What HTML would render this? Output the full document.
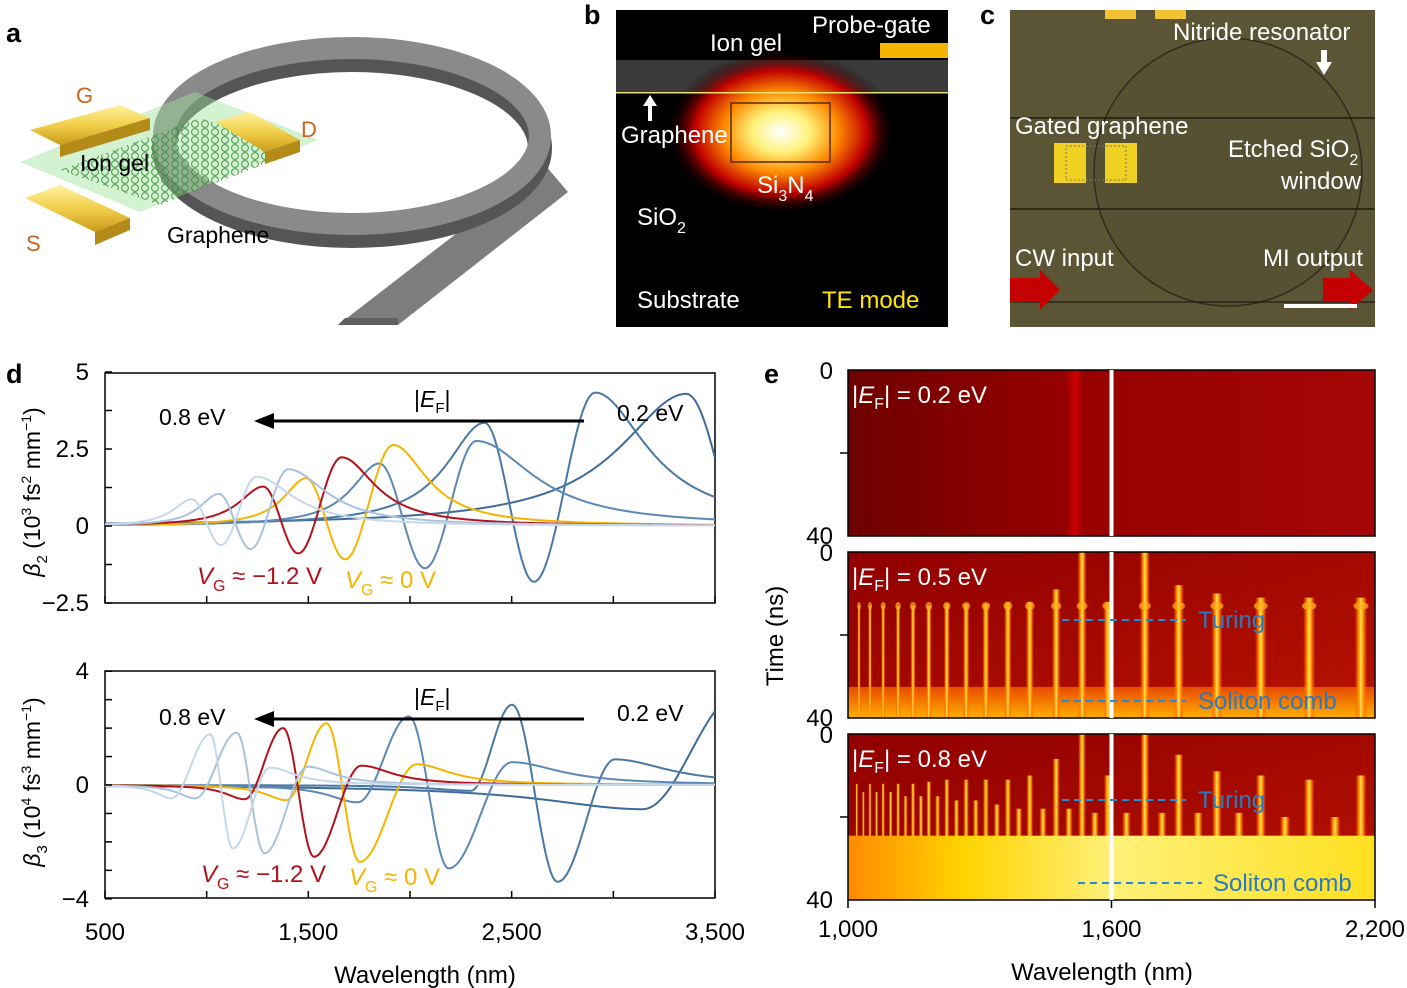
<!DOCTYPE html>
<html><head><meta charset="utf-8"><style>
html,body{margin:0;padding:0;background:#fff;}
svg{display:block;font-family:"Liberation Sans",Arial,sans-serif;}
</style></head><body>
<svg id="fig" width="1407" height="988" viewBox="0 0 1407 988" xmlns="http://www.w3.org/2000/svg">
<defs>
  <linearGradient id="gold" x1="0" y1="0" x2="0" y2="1"><stop offset="0" stop-color="#fff3a0"/><stop offset="0.5" stop-color="#f2cf4a"/><stop offset="1" stop-color="#c99b1c"/></linearGradient>
  <radialGradient id="glow" cx="0.5" cy="0.5" r="0.5"><stop offset="0" stop-color="#ffffff"/><stop offset="0.25" stop-color="#fff27a"/><stop offset="0.5" stop-color="#ff8a00"/><stop offset="0.75" stop-color="#c00000"/><stop offset="1" stop-color="#000" stop-opacity="0"/></radialGradient>
  <linearGradient id="hmTop" x1="0" y1="0" x2="1" y2="0"><stop offset="0" stop-color="#6e0000"/><stop offset="0.4" stop-color="#950000"/><stop offset="1" stop-color="#a50606"/></linearGradient>
  <linearGradient id="hmMid" x1="0" y1="0" x2="1" y2="1"><stop offset="0" stop-color="#900000"/><stop offset="1" stop-color="#b81200"/></linearGradient>
  <linearGradient id="band7" x1="0" y1="0" x2="1" y2="0"><stop offset="0" stop-color="#c80000" stop-opacity="0"/><stop offset="0.5" stop-color="#d00000"/><stop offset="1" stop-color="#c80000" stop-opacity="0"/></linearGradient>
  <linearGradient id="streak" x1="0" y1="0" x2="1" y2="0"><stop offset="0" stop-color="#ff5a00" stop-opacity="0"/><stop offset="0.3" stop-color="#ff8a00"/><stop offset="0.5" stop-color="#ffe050"/><stop offset="0.7" stop-color="#ff8a00"/><stop offset="1" stop-color="#ff5a00" stop-opacity="0"/></linearGradient>
  <linearGradient id="band" x1="0" y1="0" x2="0" y2="1"><stop offset="0" stop-color="#e84a00"/><stop offset="1" stop-color="#ffb000"/></linearGradient>
  <linearGradient id="flood" x1="0" y1="0" x2="1" y2="0"><stop offset="0" stop-color="#ff8a00"/><stop offset="0.22" stop-color="#ffd400"/><stop offset="0.5" stop-color="#fff07a"/><stop offset="1" stop-color="#ffe020"/></linearGradient>
  <pattern id="hex" width="10" height="8" patternUnits="userSpaceOnUse"><circle cx="5" cy="4" r="3.4" fill="none" stroke="#3a8a3a" stroke-width="1"/></pattern>
  <clipPath id="clipD2"><rect x="105" y="373" width="610" height="230"/></clipPath>
  <clipPath id="clipD3"><rect x="105" y="671" width="610" height="227"/></clipPath>
</defs>

<!-- Panel a -->
<g>
  <text x="6" y="42" font-size="27" font-weight="bold">a</text>
  <polygon points="338,325 398,325 568,192 545,165" fill="#7d7d7d"/>
  <polygon points="338,325 398,325 398,318 345,318" fill="#5f5f5f"/>
  <ellipse cx="352" cy="148" rx="188" ry="88" fill="none" stroke="#555" stroke-width="24"/>
  <ellipse cx="352" cy="136" rx="188" ry="88" fill="none" stroke="#8a8a8a" stroke-width="22"/>
  <polygon points="20,162 195,92 318,140 140,212" fill="#9be39b" opacity="0.45"/>
  <polygon points="60,170 200,118 300,150 160,205" fill="url(#hex)" opacity="0.9"/>
  <polygon points="30,130 120,105 150,118 60,145" fill="url(#gold)"/>
  <polygon points="60,145 150,118 150,130 60,157" fill="#b48a18"/>
  <polygon points="215,122 250,112 300,140 265,152" fill="url(#gold)"/>
  <polygon points="265,152 300,140 300,152 265,164" fill="#b48a18"/>
  <polygon points="25,198 60,185 130,218 95,232" fill="url(#gold)"/>
  <polygon points="95,232 130,218 130,230 95,245" fill="#b48a18"/>
  <text x="76" y="103" font-size="22" fill="#c8641e">G</text>
  <text x="301" y="137" font-size="22" fill="#c8641e">D</text>
  <text x="26" y="251" font-size="22" fill="#c8641e">S</text>
  <text x="80" y="171" font-size="23">Ion gel</text>
  <text x="167" y="243" font-size="23">Graphene</text>
</g>

<!-- Panel b -->
<g>
  <text x="584" y="24" font-size="27" font-weight="bold">b</text>
  <rect x="616" y="10" width="332" height="317" fill="#000"/>
  <rect x="616" y="60" width="332" height="32" fill="#3a3a3a"/>
  <ellipse cx="781" cy="132" rx="115" ry="82" fill="url(#glow)"/>
  <rect x="616" y="92" width="332" height="1.5" fill="#e5e36a"/>
  <rect x="731" y="103" width="99" height="59" fill="none" stroke="#5a2a00" stroke-width="1.5"/>
  <rect x="880" y="43" width="68" height="15" fill="#f5b400"/>
  <text x="710" y="51" font-size="24" fill="#fff">Ion gel</text>
  <text x="812" y="33" font-size="24" fill="#fff">Probe-gate</text>
  <polygon points="650,95 643,106 648,106 648,121 652,121 652,106 657,106" fill="#fff"/>
  <text x="621" y="143" font-size="24" fill="#fff">Graphene</text>
  <text x="757" y="193" font-size="24" fill="#fff">Si<tspan font-size="16" dy="8">3</tspan><tspan dy="-8">N</tspan><tspan font-size="16" dy="8">4</tspan></text>
  <text x="637" y="225" font-size="24" fill="#fff">SiO<tspan font-size="16" dy="8">2</tspan></text>
  <text x="637" y="308" font-size="24" fill="#fff">Substrate</text>
  <text x="822" y="308" font-size="24" fill="#ffe600">TE mode</text>
</g>

<!-- Panel c -->
<g>
  <text x="980" y="24" font-size="27" font-weight="bold">c</text>
  <rect x="1010" y="10" width="365" height="317" fill="#5c5535"/>
  <circle cx="1228" cy="172" r="134" fill="#575133" stroke="#2d2b1c" stroke-width="1.5"/>
  <line x1="1010" y1="118" x2="1375" y2="118" stroke="#1e1c10" stroke-width="1.5"/>
  <line x1="1010" y1="209" x2="1375" y2="209" stroke="#1e1c10" stroke-width="1.5"/>
  <line x1="1010" y1="302" x2="1375" y2="302" stroke="#1e1c10" stroke-width="1.2"/>
  <rect x="1105" y="10" width="31" height="9" fill="#f2c232"/>
  <rect x="1155" y="10" width="31" height="9" fill="#f2c232"/>
  <rect x="1054" y="143" width="32" height="40" fill="#f0d020"/>
  <rect x="1105" y="143" width="32" height="40" fill="#f0d020"/>
  <rect x="1066" y="146" width="60" height="34" fill="none" stroke="#777" stroke-dasharray="2,2"/>
  <polygon points="1010,278 1040,278 1040,270 1060,290 1040,310 1040,302 1010,302" fill="#c40000"/>
  <polygon points="1323,278 1350,278 1350,270 1373,290 1350,310 1350,302 1323,302" fill="#c40000"/>
  <rect x="1284" y="304" width="73" height="4" fill="#fff"/>
  <polygon points="1324,75 1316,62 1321,62 1321,50 1327,50 1327,62 1332,62" fill="#fff"/>
  <text x="1173" y="40" font-size="24" fill="#fff">Nitride resonator</text>
  <text x="1015" y="134" font-size="24" fill="#fff">Gated graphene</text>
  <text x="1228" y="157" font-size="24" fill="#fff">Etched SiO<tspan font-size="16" dy="8">2</tspan></text>
  <text x="1281" y="189" font-size="24" fill="#fff">window</text>
  <text x="1015" y="266" font-size="24" fill="#fff">CW input</text>
  <text x="1263" y="266" font-size="24" fill="#fff">MI output</text>
</g>

<!-- Panel d -->
<g id="panelD">
  <text x="6" y="383" font-size="27" font-weight="bold">d</text>
  <rect x="105" y="373" width="610" height="230" fill="none" stroke="#000" stroke-width="1.5"/>
  <rect x="105" y="671" width="610" height="227" fill="none" stroke="#000" stroke-width="1.5"/>
  <g id="d2lines" clip-path="url(#clipD2)"></g>
  <g id="d3lines" clip-path="url(#clipD3)"></g>
  <g id="dAxes"></g>
  <text transform="translate(40,492) rotate(-90)" font-size="23" text-anchor="middle"><tspan font-style="italic">β</tspan><tspan font-size="15" dy="7">2</tspan><tspan dy="-7"> (10</tspan><tspan font-size="14" dy="-9">3</tspan><tspan dy="9"> fs</tspan><tspan font-size="14" dy="-9">2</tspan><tspan dy="9"> mm</tspan><tspan font-size="14" dy="-9">−1</tspan><tspan dy="9">)</tspan></text>
  <text transform="translate(40,782) rotate(-90)" font-size="23" text-anchor="middle"><tspan font-style="italic">β</tspan><tspan font-size="15" dy="7">3</tspan><tspan dy="-7"> (10</tspan><tspan font-size="14" dy="-9">4</tspan><tspan dy="9"> fs</tspan><tspan font-size="14" dy="-9">3</tspan><tspan dy="9"> mm</tspan><tspan font-size="14" dy="-9">−1</tspan><tspan dy="9">)</tspan></text>
  <text x="425" y="983" font-size="24" text-anchor="middle">Wavelength (nm)</text>
  <text x="159" y="425" font-size="23">0.8 eV</text>
  <text x="617" y="421" font-size="23">0.2 eV</text>
  <text x="414" y="407" font-size="23">|<tspan font-style="italic">E</tspan><tspan font-size="15" dy="6">F</tspan><tspan dy="-6">|</tspan></text>
  <line x1="270" y1="421" x2="584" y2="421" stroke="#000" stroke-width="3"/>
  <polygon points="254,421 274,413 274,429" fill="#000"/>
  <text x="197" y="584" font-size="24" fill="#b3121c"><tspan font-style="italic">V</tspan><tspan font-size="16" dy="7">G</tspan><tspan dy="-7"> ≈ −1.2 V</tspan></text>
  <text x="345" y="588" font-size="24" fill="#f4b400"><tspan font-style="italic">V</tspan><tspan font-size="16" dy="7">G</tspan><tspan dy="-7"> ≈ 0 V</tspan></text>
  <text x="159" y="725" font-size="23">0.8 eV</text>
  <text x="617" y="721" font-size="23">0.2 eV</text>
  <text x="414" y="705" font-size="23">|<tspan font-style="italic">E</tspan><tspan font-size="15" dy="6">F</tspan><tspan dy="-6">|</tspan></text>
  <line x1="270" y1="719" x2="584" y2="719" stroke="#000" stroke-width="3"/>
  <polygon points="254,719 274,711 274,727" fill="#000"/>
  <text x="201" y="882" font-size="24" fill="#b3121c"><tspan font-style="italic">V</tspan><tspan font-size="16" dy="7">G</tspan><tspan dy="-7"> ≈ −1.2 V</tspan></text>
  <text x="349" y="885" font-size="24" fill="#f4b400"><tspan font-style="italic">V</tspan><tspan font-size="16" dy="7">G</tspan><tspan dy="-7"> ≈ 0 V</tspan></text>
</g>

<!-- Panel e -->
<g id="panelE">
  <text x="764" y="383" font-size="27" font-weight="bold">e</text>
  <g id="hm"></g>
  <g id="eAxes"></g>
  <text transform="translate(783,636) rotate(-90)" font-size="24" text-anchor="middle">Time (ns)</text>
  <text x="1102" y="980" font-size="24" text-anchor="middle">Wavelength (nm)</text>
</g>
</svg>
<script>
// ===== Panel d data =====
var seriesNames = ['ef-0.8ev','ef-0.7ev','vg-neg1.2v','vg-0v','ef-0.4ev','ef-0.3ev','ef-0.2ev'];
var seriesColors = ['#c6d7ea','#a9c2dd','#b3121c','#f4b400','#5b88b5','#4a78a6','#3e6c9a'];
var b2Lam = [[927,1070,1245],[1060,1216,1401],[1278,1450,1664],[1489,1680,1918],[1849,2073,2327],[2366,2609,2911],[3359,3720,4000]];
var b2Val = [[0.87,-0.62,1.6],[1.04,-0.75,1.84],[1.28,-0.89,2.23],[1.55,-1.08,2.63],[2.03,-1.37,2.76],[3.35,-1.81,4.33],[4.29,-2.0,4.0]];
var b2LeftWidth = [113,116,145,135,166,227,398];
var b2RightWidth = [220,230,200,200,340,310,300];
var b3Lam = [[826,1017,1128,1313],[943,1148,1284,1498],[1186,1376,1528,1761],[1391,1590,1752,2034],[1742,1995,2190,2502],[2300,2502,2726,3008],[3144,3620,3800,4100]];
var b3Val = [[-0.47,1.78,-2.23,0.61],[-0.47,1.84,-2.4,0.64],[-0.5,2.0,-2.52,0.68],[-0.53,2.17,-2.7,0.73],[-0.61,2.41,-2.93,0.8],[-0.2,2.82,-3.4,0.9],[-0.85,3.2,-3.5,1.0]];
var b3LeftWidth = [90,100,115,125,170,250,600];
var b3RightWidth = [150,160,186,200,290,320,350];
var dXTicks = [500,1000,1500,2000,2500,3000,3500];
var dXLabels = ['500','','1,500','','2,500','','3,500'];
var b2YTicks = [5,3.75,2.5,1.25,0,-1.25,-2.5];
var b2YLabels = ['5','','2.5','','0','','−2.5'];
var b3YTicks = [4,3,2,1,0,-1,-2,-3,-4];
var b3YLabels = ['4','','','','0','','','','−4'];

// ===== Panel e data =====
var eXTicks = [1000,1600,2200];
var eXLabels = ['1,000','1,600','2,200'];
var eYLabels = ['0','40'];
var hmTopBrightBand = [1517];
var midStreakLam = [1025,1050,1080,1114,1148,1184,1225,1269,1314,1364,1414,1474,1533,1592,1676,1753,1840,1940,2050,2168];
var midStreakStart = [13,13,13,13,13,13,12.5,12.5,12.5,12,12,9,0,12,0,8,10,11,11,11];
var midBandStart = 32.5;
var botStreakLam = [1020,1035,1050,1065,1080,1097,1114,1131,1148,1166,1184,1204,1225,1247,1269,1291,1314,1339,1364,1389,1414,1444,1474,1503,1533,1562,1592,1634,1676,1715,1753,1797,1840,1890,1940,1995,2050,2109,2168];
var botStreakStart = [12,14,12,14,12,14,12,15,12,15,11.5,15,11,16,11,16,11,17,11,18,10,18,6,18,0,19,10,19,0,19,5,19,9,19,10,20,11,20,10];
var botFloodStart = 24.5;

var NS='http://www.w3.org/2000/svg';
function mk(tag, attrs, parent){var e=document.createElementNS(NS,tag);for(var k in attrs)e.setAttribute(k,attrs[k]);parent.appendChild(e);return e;}

function xD(l){return 105+(l-500)/3000*610;}
function yB2(v){return 526-v*30.8;}
function yB3(v){return 785-v*28.45;}
function xE(l){return 848+(l-1000)/1200*527;}
function yE(top,ns){return top+ns/40*166;}

function curve(lams, vals, lw, rw, l){
  var n=lams.length;
  if(l<=lams[0]){var d=(lams[0]-l)/lw;return vals[0]/(1+d*d);}
  if(l>=lams[n-1]){var d2=(l-lams[n-1])/rw;return vals[n-1]/(1+d2*d2);}
  for(var i=0;i<n-1;i++){
    if(l>=lams[i]&&l<=lams[i+1]){var f=(l-lams[i])/(lams[i+1]-lams[i]);var s=(1-Math.cos(Math.PI*f))/2;return vals[i]+(vals[i+1]-vals[i])*s;}
  }
  return 0;
}
function drawSet(g, L, V, LW, RW, yf, prefix){
  var order=[6,5,4,3,2,1,0];
  order.forEach(function(i){
    var pts=[];
    for(var l=500;l<=3500;l+=5){pts.push(xD(l).toFixed(1)+','+yf(curve(L[i],V[i],LW[i],RW[i],l)).toFixed(1));}
    var p=mk('polyline',{points:pts.join(' '),fill:'none',stroke:seriesColors[i],'stroke-width':2},g);
    
    
  });
}
var g2=document.getElementById('d2lines'), g3=document.getElementById('d3lines');
drawSet(g2,b2Lam,b2Val,b2LeftWidth,b2RightWidth,yB2,'beta2');
drawSet(g3,b3Lam,b3Val,b3LeftWidth,b3RightWidth,yB3,'beta3');

var ax=document.getElementById('dAxes');
dXTicks.forEach(function(t,i){
  [[603,-7],[898,-7]].forEach(function(b){
    var tk=mk('line',{x1:xD(t),x2:xD(t),y1:b[0],y2:b[0]+b[1],stroke:'#000','stroke-width':1.5},ax);
    
    
  });
  if(dXLabels[i]){
    var tx=mk('text',{x:xD(t),y:940,'font-size':24,'text-anchor':'middle'},ax);tx.textContent=dXLabels[i];
    
    
  }
});
function yTicks(ticks,labels,yf){
  ticks.forEach(function(t,i){
    var tk=mk('line',{x1:105,x2:112,y1:yf(t),y2:yf(t),stroke:'#000','stroke-width':1.5},ax);
    
    
    if(labels[i]){
      var tx=mk('text',{x:89,y:yf(t)+8,'font-size':24,'text-anchor':'end'},ax);tx.textContent=labels[i];
      
      
    }
  });
}
yTicks(b2YTicks,b2YLabels,yB2);
yTicks(b3YTicks,b3YLabels,yB3);

// ===== Heatmaps =====
var hm=document.getElementById('hm');
var panels=[{top:370,label:'0.2'},{top:552,label:'0.5'},{top:734,label:'0.8'}];
var r0=mk('rect',{x:848,y:370,width:527,height:166,fill:'url(#hmTop)'},hm);


hmTopBrightBand.forEach(function(l){
  var b=mk('rect',{x:xE(l)-9,y:370,width:18,height:166,fill:'url(#band7)'},hm);
  
  
});
var r1=mk('rect',{x:848,y:552,width:527,height:166,fill:'url(#hmMid)'},hm);


var mb=mk('rect',{x:848,y:yE(552,midBandStart),width:527,height:718-yE(552,midBandStart),fill:'url(#band)'},hm);


midStreakLam.forEach(function(l,i){
  var w=3+i*0.5, y0=yE(552,midStreakStart[i]);
  var s=mk('rect',{x:xE(l)-w/2,y:y0,width:w,height:718-y0,fill:'url(#streak)'},hm);
  
  
  var h=mk('ellipse',{cx:xE(l),cy:yE(552,13),rx:w*0.6,ry:4,fill:'#ffb020',opacity:0.7},hm);
  
  
});
var r2=mk('rect',{x:848,y:734,width:527,height:166,fill:'url(#hmMid)'},hm);


botStreakLam.forEach(function(l,i){
  var w=2.5+i*0.22, y0=yE(734,botStreakStart[i]);
  var s=mk('rect',{x:xE(l)-w/2,y:y0,width:w,height:900-y0,fill:'url(#streak)'},hm);
  
  
});
var fl=mk('rect',{x:848,y:yE(734,botFloodStart),width:527,height:900-yE(734,botFloodStart),fill:'url(#flood)'},hm);


panels.forEach(function(p,i){
  var f=mk('rect',{x:848,y:p.top,width:527,height:166,fill:'none',stroke:'#000','stroke-width':1.5},hm);
  
  
  var wl=mk('rect',{x:xE(1600)-2,y:p.top,width:4,height:166,fill:'#fff'},hm);
  
  
  var t=mk('text',{x:852,y:p.top+33,'font-size':24,fill:'#fff'},hm);
  t.innerHTML='|<tspan font-style="italic">E</tspan><tspan font-size="16" dy="6">F</tspan><tspan dy="-6">| = '+p.label+' eV</tspan>';
  
  
  var a0=mk('text',{x:833,y:p.top+9,'font-size':24,'text-anchor':'end'},hm);a0.textContent=eYLabels[0];
  
  
  var a1=mk('text',{x:833,y:p.top+174,'font-size':24,'text-anchor':'end'},hm);a1.textContent=eYLabels[1];
  
  
  var tk=mk('line',{x1:840,x2:848,y1:p.top+83,y2:p.top+83,stroke:'#000','stroke-width':1.5},hm);
  
  
});
function ann(x1,x2,y,txt,tx,name){
  var l=mk('line',{x1:x1,x2:x2,y1:y,y2:y,stroke:'#2a8ad0','stroke-width':2,'stroke-dasharray':'7,5'},hm);
  
  
  var t=mk('text',{x:tx,y:y+8,'font-size':24,fill:'#2a7ac0'},hm);t.textContent=txt;
  
  
}
ann(1062,1186,620,'Turing',1198,'turing-label-mid');
ann(1062,1186,701,'Soliton comb',1198,'soliton-label-mid');
ann(1062,1186,800,'Turing',1198,'turing-label-bottom');
ann(1078,1202,883,'Soliton comb',1213,'soliton-label-bottom');
var ea=document.getElementById('eAxes');
eXTicks.forEach(function(t,i){
  var tk=mk('line',{x1:xE(t),x2:xE(t),y1:900,y2:908,stroke:'#000','stroke-width':1.5},ea);
  
  
  var tx=mk('text',{x:xE(t),y:937,'font-size':24,'text-anchor':'middle'},ea);tx.textContent=eXLabels[i];
  
  
});
</script>
</body></html>
